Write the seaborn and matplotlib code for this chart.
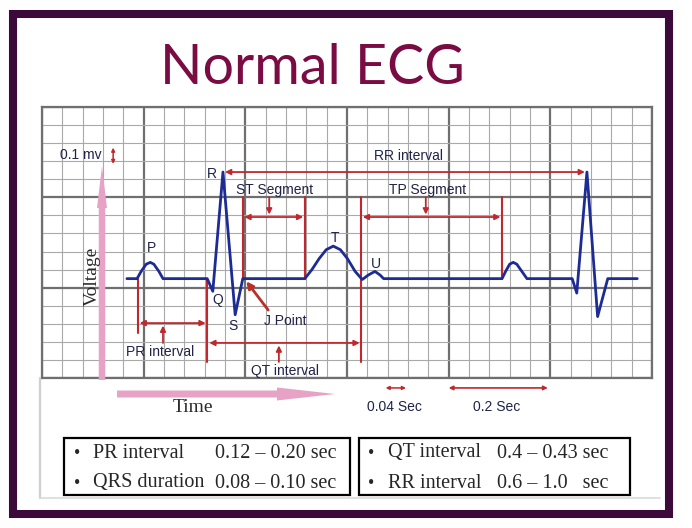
import numpy as np
import seaborn as sns
import matplotlib.pyplot as plt
from matplotlib.patches import Rectangle, FancyArrow
from matplotlib.ticker import MultipleLocator

# ECG trace (time in s, voltage in mV)
ecg_time = [0.167, 0.187, 0.195, 0.205, 0.213, 0.220, 0.230, 0.238,
            0.325, 0.336, 0.356, 0.380, 0.395,
            0.517, 0.531, 0.545, 0.559, 0.573, 0.587, 0.601, 0.616, 0.630,
            0.642, 0.655, 0.665, 0.672,
            0.905, 0.912, 0.920, 0.927, 0.934, 0.944, 0.954,
            1.043, 1.052, 1.072, 1.093, 1.113, 1.171]
ecg_mv = [0.55, 0.55, 0.59, 0.63, 0.64, 0.63, 0.59, 0.55,
          0.55, 0.48, 1.14, 0.35, 0.55,
          0.55, 0.60, 0.66, 0.71, 0.73, 0.71, 0.66, 0.59, 0.545,
          0.57, 0.59, 0.57, 0.55,
          0.55, 0.59, 0.63, 0.64, 0.63, 0.59, 0.55,
          0.55, 0.47, 1.14, 0.34, 0.55, 0.55]

# landmarks on the trace (s)
p_start, q_start, r_peak, j_point = 0.189, 0.325, 0.356, 0.395
t_start, t_end, p2_start, r2_peak = 0.517, 0.628, 0.905, 1.072
baseline, r_height = 0.55, 1.14

# wave letters: label, time, mV
wave_names = ["P", "Q", "R", "S", "T", "U"]
wave_t = [0.216, 0.345, 0.335, 0.376, 0.576, 0.657]
wave_v = [0.72, 0.43, 1.13, 0.29, 0.775, 0.63]

# summary table
summary_labels = ["PR interval", "QRS duration", "QT interval", "RR interval"]
summary_values = ["0.12 \u2013 0.20 sec", "0.08 \u2013 0.10 sec",
                  "0.4 \u2013 0.43 sec", "0.6 \u2013 1.0   sec"]

sns.set_style("white")
plt.rcParams["font.family"] = ["Liberation Sans", "DejaVu Sans"]

W, H = 692, 528
fig = plt.figure(figsize=(W / 100, H / 100), dpi=100)
fig.patch.set_facecolor("white")

def px(x, y):
    # pixel position -> inches for fig.dpi_scale_trans
    return x / 100, (H - y) / 100

inch = fig.dpi_scale_trans

# purple frame and light grey slide edge
fig.add_artist(Rectangle(px(13, 514), 656 / 100, 500.5 / 100, transform=inch,
                         fill=False, ec="#3b0a3b", lw=5.8))
fig.add_artist(plt.Line2D([0.40, 0.40], [px(0, 378)[1], px(0, 498)[1]],
                          transform=inch, color="#cfcfcf", lw=1.6))
fig.add_artist(plt.Line2D([0.40, 6.60], [px(0, 498)[1]] * 2,
                          transform=inch, color="#dadada", lw=1.2))

fig.text(*px(312, 68), "Normal ECG", transform=inch, ha="center", va="center",
         fontsize=40, color="#7a0c43", family=["Lato", "DejaVu Sans"])

# ECG paper
ax = fig.add_axes([42 / W, (H - 378) / H, 610 / W, 271 / H])
ax.set_xlim(0, 1.2)
ax.set_ylim(0, 1.5)
ax.xaxis.set_major_locator(MultipleLocator(0.2))
ax.xaxis.set_minor_locator(MultipleLocator(0.04))
ax.yaxis.set_major_locator(MultipleLocator(0.5))
ax.yaxis.set_minor_locator(MultipleLocator(0.1))
ax.grid(which="minor", color="#a9a9a9", lw=0.8)
ax.grid(which="major", color="#6f6f6f", lw=1.6)
ax.tick_params(which="both", length=0, labelbottom=False, labelleft=False)
for s in ax.spines.values():
    s.set_color("#6f6f6f")
    s.set_linewidth(1.6)
ax.set_axisbelow(True)

sns.lineplot(x=ecg_time, y=ecg_mv, ax=ax, color="#1d2b94", lw=2.0,
             estimator=None, sort=False, zorder=5)

red = "#c1272d"
navy = "#1f2347"

def vline(t, v0, v1):
    ax.plot([t, t], [v0, v1], color=red, lw=1.5, zorder=4, clip_on=False)

def arrow(x0, y0, x1, y1, style="<|-|>", lw=1.3, color=red, ms=8):
    ax.annotate("", xy=(x1, y1), xytext=(x0, y0), annotation_clip=False,
                arrowprops=dict(arrowstyle=style, color=color, lw=lw,
                                mutation_scale=ms, shrinkA=0, shrinkB=0),
                zorder=6)

def label(t, v, s, size=10):
    ax.text(t, v, s, ha="center", va="center", fontsize=size, color=navy,
            zorder=7, clip_on=False)

# RR interval
arrow(r_peak + 0.004, r_height, r2_peak - 0.004, r_height)
label(0.720, 1.228, "RR interval")

# ST segment
vline(j_point, 1.0, baseline)
vline(t_start, 1.0, baseline)
arrow(j_point + 0.003, 0.891, t_start - 0.003, 0.891)
arrow(0.447, 1.0, 0.447, 0.905, style="-|>")
label(0.457, 1.04, "ST Segment")

# TP segment
vline(t_end, 1.0, 0.089)
vline(p2_start, 1.0, baseline)
arrow(t_end + 0.003, 0.891, p2_start - 0.003, 0.891)
arrow(0.755, 1.0, 0.755, 0.905, style="-|>")
label(0.759, 1.04, "TP Segment")

# PR interval
vline(p_start, baseline, 0.249)
vline(q_start, baseline, 0.089)
arrow(p_start + 0.003, 0.304, q_start - 0.003, 0.304)
arrow(0.238, 0.194, 0.238, 0.290, style="-|>")
label(0.232, 0.144, "PR interval")

# QT interval
arrow(q_start + 0.004, 0.194, t_end - 0.003, 0.194)
arrow(0.466, 0.089, 0.466, 0.180, style="-|>")
label(0.478, 0.039, "QT interval")

# J point
arrow(0.445, 0.376, j_point + 0.007, 0.535, style="-|>", lw=2.0,
      color="#b8302a", ms=10)
label(0.478, 0.316, "J Point")

# wave letters
for n, t, v in zip(wave_names, wave_t, wave_v):
    label(t, v, n)

# scale hints
label(0.077, 1.234, "0.1 mv")
arrow(0.140, 1.185, 0.140, 1.275, lw=1.1, ms=5)
arrow(0.676, -0.055, 0.716, -0.055, lw=1.1, ms=5)
label(0.694, -0.16, "0.04 Sec")
arrow(0.80, -0.055, 0.995, -0.055, lw=1.2, ms=6)
label(0.895, -0.16, "0.2 Sec")

# pink axis arrows
pink = "#e7a3c5"
fig.add_artist(FancyArrow(*px(102, 380), 0, 2.14, width=0.065, head_width=0.10,
                          head_length=0.42, length_includes_head=True,
                          transform=inch, color=pink, lw=0))
fig.add_artist(FancyArrow(*px(117, 394), 2.18, 0, width=0.07, head_width=0.13,
                          head_length=0.58, length_includes_head=True,
                          transform=inch, color=pink, lw=0))
serif = ["Liberation Serif", "DejaVu Serif"]
fig.text(*px(92, 276), "Voltage", transform=inch, rotation=90, ha="center",
         va="center", fontsize=14, family=serif, color="#2b2b2b")
fig.text(*px(193, 407), "Time", transform=inch, ha="center", va="center",
         fontsize=14, family=serif, color="#2b2b2b")

# summary boxes
boxes = [(64, 350, 74, 93, 215), (359, 630, 368, 388, 497)]
for i, (x0, x1, xb, xl, xv) in enumerate(boxes):
    fig.add_artist(Rectangle(px(x0, 495), (x1 - x0) / 100, 57 / 100,
                             transform=inch, fill=False, ec="black", lw=1.6))
    for j, yy in enumerate([453, 483]):
        k = 2 * i + j
        fig.text(*px(xb, yy), "\u2022", transform=inch, va="center",
                 fontsize=13, family=serif)
        fig.text(*px(xl, yy), summary_labels[k], transform=inch, va="center",
                 fontsize=14.5, family=serif)
        fig.text(*px(xv, yy), summary_values[k], transform=inch, va="center",
                 fontsize=14.5, family=serif)

fig.savefig("out.png", dpi=100)
